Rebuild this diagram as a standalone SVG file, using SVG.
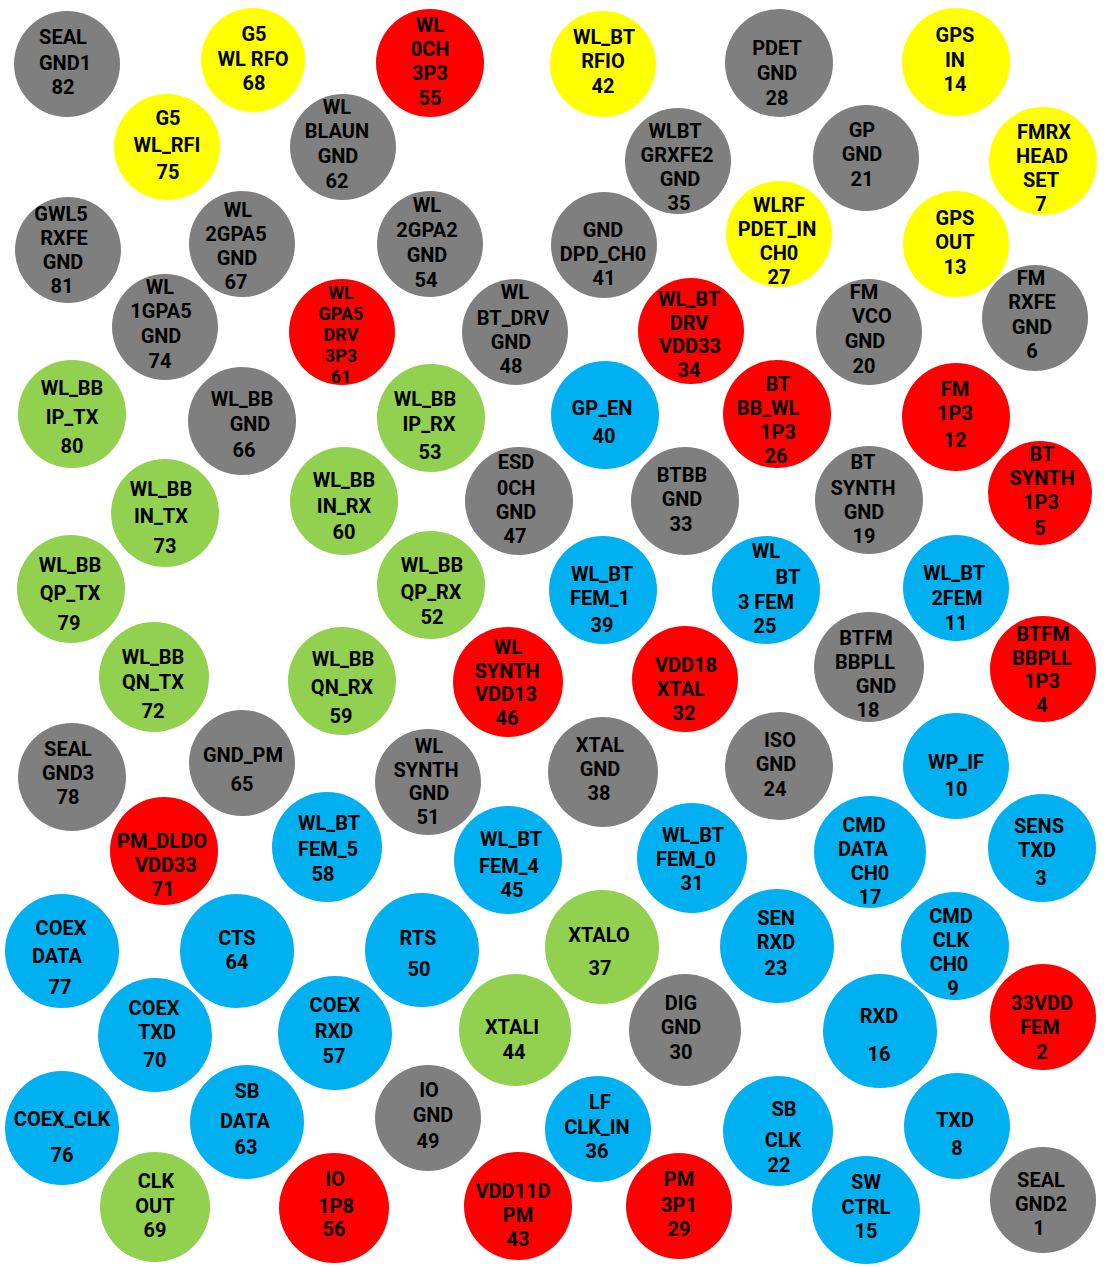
<svg xmlns="http://www.w3.org/2000/svg" width="1109" height="1267" viewBox="0 0 1109 1267">
<style>
.g{fill:#7f7f7f}.y{fill:#ffff00}.r{fill:#ff0000}.b{fill:#00b0f0}.n{fill:#92d050}
text{font-family:Roboto,"Open Sans","Liberation Sans",sans-serif;font-weight:bold;font-size:20px;fill:#000;text-anchor:middle}
text.s{font-size:18px}
</style>
<rect width="1109" height="1267" fill="#fff"/>
<g id="nodes">
<g id="pin82"><circle class="g" cx="67" cy="64" r="53"/><text><tspan x="63" y="44">SEAL</tspan><tspan x="65" y="70">GND1</tspan><tspan x="63" y="94">82</tspan></text></g>
<g id="pin68"><circle class="y" cx="253" cy="60" r="52"/><text><tspan x="254" y="41">G5</tspan><tspan x="253" y="66">WL RFO</tspan><tspan x="254" y="90">68</tspan></text></g>
<g id="pin75"><circle class="y" cx="167" cy="147" r="53"/><text><tspan x="168" y="125">G5</tspan><tspan x="167" y="152">WL_RFI</tspan><tspan x="168" y="179">75</tspan></text></g>
<g id="pin55"><circle class="r" cx="430" cy="63" r="54"/><text><tspan x="430" y="32">WL</tspan><tspan x="430" y="56">0CH</tspan><tspan x="430" y="80">3P3</tspan><tspan x="430" y="105">55</tspan></text></g>
<g id="pin62"><circle class="g" cx="343" cy="147" r="53"/><text><tspan x="337" y="114">WL</tspan><tspan x="337" y="138">BLAUN</tspan><tspan x="338" y="163">GND</tspan><tspan x="337" y="188">62</tspan></text></g>
<g id="pin42"><circle class="y" cx="603" cy="64" r="53"/><text><tspan x="604" y="44">WL_BT</tspan><tspan x="603" y="68">RFIO</tspan><tspan x="603" y="93">42</tspan></text></g>
<g id="pin28"><circle class="g" cx="779" cy="63" r="54"/><text><tspan x="777" y="55">PDET</tspan><tspan x="777" y="80">GND</tspan><tspan x="777" y="105">28</tspan></text></g>
<g id="pin14"><circle class="y" cx="956" cy="62" r="54"/><text><tspan x="955" y="42">GPS</tspan><tspan x="955" y="67">IN</tspan><tspan x="955" y="91">14</tspan></text></g>
<g id="pin35"><circle class="g" cx="678" cy="161" r="53"/><text><tspan x="675" y="138">WLBT</tspan><tspan x="677" y="162">GRXFE2</tspan><tspan x="680" y="186">GND</tspan><tspan x="679" y="210">35</tspan></text></g>
<g id="pin21"><circle class="g" cx="866" cy="158" r="53"/><text><tspan x="862" y="137">GP</tspan><tspan x="862" y="161">GND</tspan><tspan x="862" y="186">21</tspan></text></g>
<g id="pin7"><circle class="y" cx="1043" cy="161" r="54"/><text><tspan x="1044" y="139">FMRX</tspan><tspan x="1042" y="163">HEAD</tspan><tspan x="1041" y="187">SET</tspan><tspan x="1041" y="211">7</tspan></text></g>
<g id="pin81"><circle class="g" cx="68" cy="250" r="53"/><text><tspan x="61" y="221">GWL5</tspan><tspan x="64" y="245">RXFE</tspan><tspan x="63" y="269">GND</tspan><tspan x="62" y="293">81</tspan></text></g>
<g id="pin67"><circle class="g" cx="242" cy="244" r="53"/><text><tspan x="238" y="217">WL</tspan><tspan x="236" y="241">2GPA5</tspan><tspan x="237" y="265">GND</tspan><tspan x="236" y="289">67</tspan></text></g>
<g id="pin54"><circle class="g" cx="430" cy="244" r="53"/><text><tspan x="427" y="212">WL</tspan><tspan x="427" y="237">2GPA2</tspan><tspan x="427" y="262">GND</tspan><tspan x="426" y="287">54</tspan></text></g>
<g id="pin41"><circle class="g" cx="604" cy="245" r="53"/><text><tspan x="603" y="237">GND</tspan><tspan x="603" y="261">DPD_CH0</tspan><tspan x="604" y="285">41</tspan></text></g>
<g id="pin27"><circle class="y" cx="779" cy="234" r="53"/><text><tspan x="779" y="212">WLRF</tspan><tspan x="777" y="236">PDET_IN</tspan><tspan x="779" y="260">CH0</tspan><tspan x="779" y="284">27</tspan></text></g>
<g id="pin13"><circle class="y" cx="956" cy="244" r="53"/><text><tspan x="955" y="225">GPS</tspan><tspan x="955" y="249">OUT</tspan><tspan x="955" y="274">13</tspan></text></g>
<g id="pin74"><circle class="g" cx="165" cy="327" r="53"/><text><tspan x="160" y="294">WL</tspan><tspan x="161" y="318">1GPA5</tspan><tspan x="161" y="343">GND</tspan><tspan x="160" y="368">74</tspan></text></g>
<g id="pin61"><circle class="r" cx="342" cy="332" r="53"/><text class="s"><tspan x="341" y="299">WL</tspan><tspan x="341" y="320">GPA5</tspan><tspan x="341" y="341">DRV</tspan><tspan x="341" y="362">3P3</tspan><tspan x="341" y="383">61</tspan></text></g>
<g id="pin48"><circle class="g" cx="515" cy="332" r="53"/><text><tspan x="515" y="299">WL</tspan><tspan x="513" y="325">BT_DRV</tspan><tspan x="511" y="349">GND</tspan><tspan x="511" y="373">48</tspan></text></g>
<g id="pin34"><circle class="r" cx="691" cy="331" r="53"/><text><tspan x="689" y="306">WL_BT</tspan><tspan x="689" y="330">DRV</tspan><tspan x="690" y="353">VDD33</tspan><tspan x="689" y="377">34</tspan></text></g>
<g id="pin20"><circle class="g" cx="869" cy="332" r="53"/><text><tspan x="864" y="299">FM</tspan><tspan x="872" y="323">VCO</tspan><tspan x="865" y="348">GND</tspan><tspan x="864" y="373">20</tspan></text></g>
<g id="pin6"><circle class="g" cx="1035" cy="318" r="53"/><text><tspan x="1031" y="285">FM</tspan><tspan x="1032" y="309">RXFE</tspan><tspan x="1032" y="334">GND</tspan><tspan x="1032" y="358">6</tspan></text></g>
<g id="pin80"><circle class="n" cx="72" cy="414" r="54"/><text><tspan x="72" y="395">WL_BB</tspan><tspan x="72" y="424">IP_TX</tspan><tspan x="72" y="453">80</tspan></text></g>
<g id="pin66"><circle class="g" cx="242" cy="421" r="54"/><text><tspan x="242" y="406">WL_BB</tspan><tspan x="250" y="431">GND</tspan><tspan x="244" y="457">66</tspan></text></g>
<g id="pin53"><circle class="n" cx="431" cy="418" r="54"/><text><tspan x="425" y="406">WL_BB</tspan><tspan x="429" y="431">IP_RX</tspan><tspan x="430" y="459">53</tspan></text></g>
<g id="pin40"><circle class="b" cx="605" cy="415" r="54"/><text><tspan x="602" y="415">GP_EN</tspan><tspan x="604" y="443">40</tspan></text></g>
<g id="pin26"><circle class="r" cx="777" cy="414" r="54"/><text><tspan x="778" y="391">BT</tspan><tspan x="768" y="415">BB_WL</tspan><tspan x="778" y="439">1P3</tspan><tspan x="776" y="463">26</tspan></text></g>
<g id="pin12"><circle class="r" cx="956" cy="417" r="54"/><text><tspan x="955" y="396">FM</tspan><tspan x="955" y="420">1P3</tspan><tspan x="955" y="447">12</tspan></text></g>
<g id="pin73"><circle class="n" cx="165" cy="513" r="54"/><text><tspan x="161" y="496">WL_BB</tspan><tspan x="161" y="523">IN_TX</tspan><tspan x="165" y="553">73</tspan></text></g>
<g id="pin60"><circle class="n" cx="344" cy="501" r="54"/><text><tspan x="344" y="487">WL_BB</tspan><tspan x="344" y="513">IN_RX</tspan><tspan x="344" y="539">60</tspan></text></g>
<g id="pin47"><circle class="g" cx="519" cy="501" r="54"/><text><tspan x="516" y="469">ESD</tspan><tspan x="516" y="495">0CH</tspan><tspan x="516" y="519">GND</tspan><tspan x="515" y="543">47</tspan></text></g>
<g id="pin33"><circle class="g" cx="685" cy="501" r="54"/><text><tspan x="682" y="482">BTBB</tspan><tspan x="682" y="506">GND</tspan><tspan x="681" y="531">33</tspan></text></g>
<g id="pin19"><circle class="g" cx="869" cy="500" r="54"/><text><tspan x="863" y="469">BT</tspan><tspan x="863" y="495">SYNTH</tspan><tspan x="864" y="519">GND</tspan><tspan x="864" y="543">19</tspan></text></g>
<g id="pin5"><circle class="r" cx="1040" cy="493" r="52"/><text><tspan x="1042" y="461">BT</tspan><tspan x="1042" y="485">SYNTH</tspan><tspan x="1041" y="509">1P3</tspan><tspan x="1040" y="535">5</tspan></text></g>
<g id="pin79"><circle class="n" cx="71" cy="589" r="54"/><text><tspan x="70" y="572">WL_BB</tspan><tspan x="70" y="600">QP_TX</tspan><tspan x="69" y="630">79</tspan></text></g>
<g id="pin52"><circle class="n" cx="431" cy="585" r="54"/><text><tspan x="432" y="572">WL_BB</tspan><tspan x="431" y="599">QP_RX</tspan><tspan x="432" y="624">52</tspan></text></g>
<g id="pin39"><circle class="b" cx="603" cy="590" r="54"/><text><tspan x="602" y="581">WL_BT</tspan><tspan x="600" y="605">FEM_1</tspan><tspan x="602" y="632">39</tspan></text></g>
<g id="pin25"><circle class="b" cx="766" cy="590" r="54"/><text><tspan x="766" y="558">WL</tspan><tspan x="788" y="584">BT</tspan><tspan x="766" y="609">3 FEM</tspan><tspan x="765" y="633">25</tspan></text></g>
<g id="pin11"><circle class="b" cx="956" cy="588" r="53"/><text><tspan x="954" y="580">WL_BT</tspan><tspan x="957" y="605">2FEM</tspan><tspan x="956" y="630">11</tspan></text></g>
<g id="pin72"><circle class="n" cx="154" cy="677" r="55"/><text><tspan x="153" y="664">WL_BB</tspan><tspan x="153" y="689">QN_TX</tspan><tspan x="153" y="718">72</tspan></text></g>
<g id="pin59"><circle class="n" cx="342" cy="681" r="54"/><text><tspan x="343" y="666">WL_BB</tspan><tspan x="342" y="694">QN_RX</tspan><tspan x="341" y="723">59</tspan></text></g>
<g id="pin46"><circle class="r" cx="508" cy="682" r="55"/><text><tspan x="508" y="654">WL</tspan><tspan x="507" y="678">SYNTH</tspan><tspan x="506" y="701">VDD13</tspan><tspan x="507" y="725">46</tspan></text></g>
<g id="pin32"><circle class="r" cx="685" cy="679" r="53"/><text><tspan x="686" y="672">VDD18</tspan><tspan x="681" y="696">XTAL</tspan><tspan x="684" y="720">32</tspan></text></g>
<g id="pin18"><circle class="g" cx="869" cy="667" r="55"/><text><tspan x="866" y="645">BTFM</tspan><tspan x="865" y="669">BBPLL</tspan><tspan x="876" y="693">GND</tspan><tspan x="868" y="717">18</tspan></text></g>
<g id="pin4"><circle class="r" cx="1043" cy="669" r="53"/><text><tspan x="1043" y="641">BTFM</tspan><tspan x="1042" y="665">BBPLL</tspan><tspan x="1042" y="688">1P3</tspan><tspan x="1042" y="712">4</tspan></text></g>
<g id="pin78"><circle class="g" cx="72" cy="777" r="54"/><text><tspan x="68" y="756">SEAL</tspan><tspan x="68" y="780">GND3</tspan><tspan x="68" y="804">78</tspan></text></g>
<g id="pin65"><circle class="g" cx="242" cy="763" r="53"/><text><tspan x="243" y="762">GND_PM</tspan><tspan x="242" y="791">65</tspan></text></g>
<g id="pin51"><circle class="g" cx="428" cy="782" r="53"/><text><tspan x="429" y="753">WL</tspan><tspan x="426" y="777">SYNTH</tspan><tspan x="429" y="800">GND</tspan><tspan x="428" y="824">51</tspan></text></g>
<g id="pin38"><circle class="g" cx="603" cy="772" r="55"/><text><tspan x="600" y="752">XTAL</tspan><tspan x="600" y="776">GND</tspan><tspan x="599" y="800">38</tspan></text></g>
<g id="pin24"><circle class="g" cx="779" cy="766" r="54"/><text><tspan x="780" y="747">ISO</tspan><tspan x="776" y="771">GND</tspan><tspan x="775" y="796">24</tspan></text></g>
<g id="pin10"><circle class="b" cx="956" cy="766" r="53"/><text><tspan x="956" y="769">WP_IF</tspan><tspan x="956" y="796">10</tspan></text></g>
<g id="pin71"><circle class="r" cx="164" cy="851" r="54"/><text><tspan x="162" y="848">PM_DLDO</tspan><tspan x="166" y="872">VDD33</tspan><tspan x="163" y="896">71</tspan></text></g>
<g id="pin58"><circle class="b" cx="327" cy="847" r="55"/><text><tspan x="329" y="830">WL_BT</tspan><tspan x="328" y="856">FEM_5</tspan><tspan x="323" y="881">58</tspan></text></g>
<g id="pin45"><circle class="b" cx="508" cy="860" r="54"/><text><tspan x="511" y="846">WL_BT</tspan><tspan x="509" y="873">FEM_4</tspan><tspan x="512" y="897">45</tspan></text></g>
<g id="pin31"><circle class="b" cx="692" cy="858" r="55"/><text><tspan x="693" y="842">WL_BT</tspan><tspan x="686" y="866">FEM_0</tspan><tspan x="692" y="890">31</tspan></text></g>
<g id="pin17"><circle class="b" cx="870" cy="852" r="56"/><text><tspan x="864" y="832">CMD</tspan><tspan x="863" y="856">DATA</tspan><tspan x="870" y="880">CH0</tspan><tspan x="870" y="904">17</tspan></text></g>
<g id="pin3"><circle class="b" cx="1042" cy="848" r="54"/><text><tspan x="1039" y="833">SENS</tspan><tspan x="1037" y="857">TXD</tspan><tspan x="1041" y="885">3</tspan></text></g>
<g id="pin77"><circle class="b" cx="62" cy="951" r="57"/><text><tspan x="61" y="935">COEX</tspan><tspan x="57" y="963">DATA</tspan><tspan x="60" y="994">77</tspan></text></g>
<g id="pin64"><circle class="b" cx="237" cy="951" r="57"/><text><tspan x="237" y="945">CTS</tspan><tspan x="237" y="969">64</tspan></text></g>
<g id="pin50"><circle class="b" cx="422" cy="950" r="57"/><text><tspan x="418" y="945">RTS</tspan><tspan x="419" y="976">50</tspan></text></g>
<g id="pin37"><circle class="n" cx="602" cy="947" r="57"/><text><tspan x="599" y="942">XTALO</tspan><tspan x="600" y="975">37</tspan></text></g>
<g id="pin23"><circle class="b" cx="777" cy="946" r="57"/><text><tspan x="776" y="925">SEN</tspan><tspan x="776" y="949">RXD</tspan><tspan x="776" y="975">23</tspan></text></g>
<g id="pin9"><circle class="b" cx="955" cy="946" r="54"/><text><tspan x="951" y="923">CMD</tspan><tspan x="951" y="947">CLK</tspan><tspan x="949" y="971">CH0</tspan><tspan x="953" y="995">9</tspan></text></g>
<g id="pin70"><circle class="b" cx="155" cy="1035" r="57"/><text><tspan x="154" y="1015">COEX</tspan><tspan x="157" y="1039">TXD</tspan><tspan x="155" y="1067">70</tspan></text></g>
<g id="pin57"><circle class="b" cx="335" cy="1033" r="57"/><text><tspan x="335" y="1012">COEX</tspan><tspan x="334" y="1038">RXD</tspan><tspan x="334" y="1063">57</tspan></text></g>
<g id="pin44"><circle class="n" cx="515" cy="1030" r="56"/><text><tspan x="512" y="1034">XTALI</tspan><tspan x="514" y="1059">44</tspan></text></g>
<g id="pin30"><circle class="g" cx="685" cy="1030" r="56"/><text><tspan x="681" y="1010">DIG</tspan><tspan x="681" y="1034">GND</tspan><tspan x="681" y="1059">30</tspan></text></g>
<g id="pin16"><circle class="b" cx="880" cy="1031" r="57"/><text><tspan x="879" y="1023">RXD</tspan><tspan x="879" y="1061">16</tspan></text></g>
<g id="pin2"><circle class="r" cx="1043" cy="1017" r="53"/><text><tspan x="1042" y="1010">33VDD</tspan><tspan x="1040" y="1034">FEM</tspan><tspan x="1042" y="1059">2</tspan></text></g>
<g id="pin76"><circle class="b" cx="62" cy="1128" r="57"/><text><tspan x="62" y="1126">COEX_CLK</tspan><tspan x="62" y="1162">76</tspan></text></g>
<g id="pin63"><circle class="b" cx="247" cy="1122" r="57"/><text><tspan x="247" y="1098">SB</tspan><tspan x="245" y="1128">DATA</tspan><tspan x="246" y="1154">63</tspan></text></g>
<g id="pin49"><circle class="g" cx="428" cy="1118" r="53"/><text><tspan x="429" y="1097">IO</tspan><tspan x="433" y="1122">GND</tspan><tspan x="428" y="1148">49</tspan></text></g>
<g id="pin36"><circle class="b" cx="598" cy="1129" r="53"/><text><tspan x="600" y="1109">LF</tspan><tspan x="597" y="1134">CLK_IN</tspan><tspan x="597" y="1158">36</tspan></text></g>
<g id="pin22"><circle class="b" cx="778" cy="1131" r="55"/><text><tspan x="784" y="1116">SB</tspan><tspan x="783" y="1147">CLK</tspan><tspan x="779" y="1172">22</tspan></text></g>
<g id="pin8"><circle class="b" cx="957" cy="1126" r="53"/><text><tspan x="955" y="1127">TXD</tspan><tspan x="957" y="1155">8</tspan></text></g>
<g id="pin69"><circle class="n" cx="155" cy="1207" r="55"/><text><tspan x="156" y="1188">CLK</tspan><tspan x="155" y="1213">OUT</tspan><tspan x="155" y="1237">69</tspan></text></g>
<g id="pin56"><circle class="r" cx="334" cy="1208" r="55"/><text><tspan x="335" y="1186">IO</tspan><tspan x="336" y="1213">1P8</tspan><tspan x="334" y="1236">56</tspan></text></g>
<g id="pin43"><circle class="r" cx="518" cy="1206" r="54"/><text><tspan x="513" y="1198">VDD11D</tspan><tspan x="518" y="1222">PM</tspan><tspan x="518" y="1246">43</tspan></text></g>
<g id="pin29"><circle class="r" cx="679" cy="1206" r="53"/><text><tspan x="679" y="1186">PM</tspan><tspan x="679" y="1212">3P1</tspan><tspan x="679" y="1236">29</tspan></text></g>
<g id="pin15"><circle class="b" cx="866" cy="1210" r="54"/><text><tspan x="866" y="1189">SW</tspan><tspan x="866" y="1214">CTRL</tspan><tspan x="866" y="1238">15</tspan></text></g>
<g id="pin1"><circle class="g" cx="1043" cy="1200" r="53"/><text><tspan x="1041" y="1187">SEAL</tspan><tspan x="1041" y="1211">GND2</tspan><tspan x="1039" y="1235">1</tspan></text></g>
</g>
<g id="connectors"/>
</svg>
